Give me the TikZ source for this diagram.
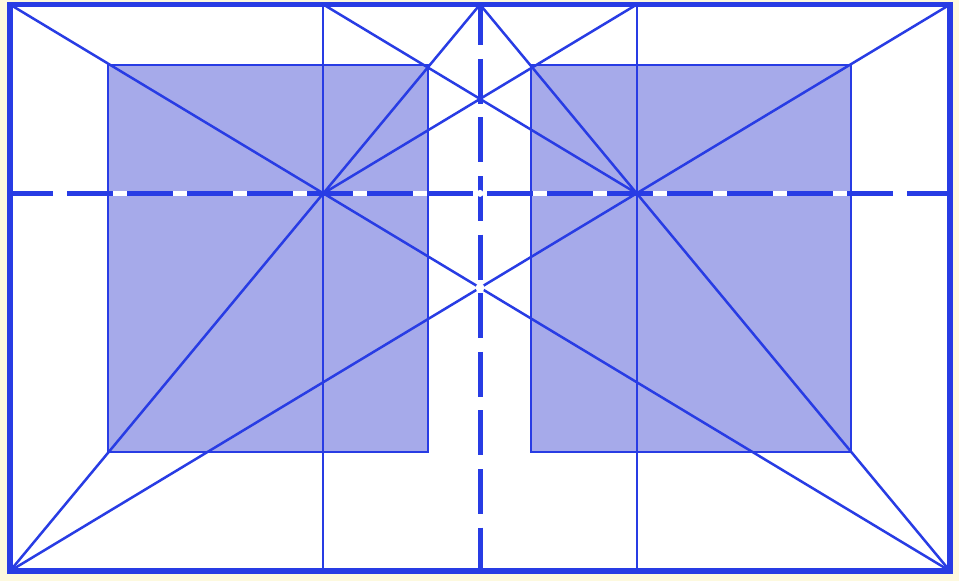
\documentclass[tikz,border=0pt]{standalone}
\usepackage[dvipsnames]{xcolor}
\definecolor{inkblue}{RGB}{40,60,228}
\definecolor{pageshade}{RGB}{166,170,234}
\definecolor{papercream}{RGB}{253,249,222}
\tikzstyle{frameline} = [draw=inkblue, line width=5.5pt]
\tikzstyle{guide} = [draw=inkblue, line width=2.5pt]
\tikzstyle{thinguide} = [draw=inkblue, line width=1.8pt]
\tikzstyle{textblock} = [fill=pageshade, draw=inkblue, line width=2.2pt]
\tikzstyle{axisline} = [draw=inkblue, line width=5pt]

\begin{document}
\begin{tikzpicture}[x=1pt, y=-1pt]

\useasboundingbox (0,0) rectangle (959,581);
\fill[papercream] (0,0) rectangle (959,581);

\coordinate (tl) at (10,4.5);
\coordinate (tr) at (950,4.5);
\coordinate (bl) at (10,571);
\coordinate (br) at (950,571);
\coordinate (spinetop) at (480,4.5);
\coordinate (spinebot) at (480,571);

\fill[white] (tl) rectangle (br);

% text blocks
\path[textblock] (108,65) rectangle (428,452);
\path[textblock] (531,65) rectangle (851,452);

% construction points
\coordinate (leftpt) at (intersection of tl--br and bl--spinetop);
\coordinate (rightpt) at (intersection of tr--bl and br--spinetop);
\coordinate (spinecross) at (intersection of tl--br and tr--bl);
\coordinate (lefttop) at (leftpt |- tl);
\coordinate (righttop) at (rightpt |- tr);

\draw[thinguide] (lefttop) -- (leftpt |- bl);
\draw[thinguide] (righttop) -- (rightpt |- br);

\draw[guide] (tl) -- (br);
\draw[guide] (tr) -- (bl);
\draw[guide] (bl) -- (spinetop) -- (br);
\draw[guide] (lefttop) -- (rightpt);
\draw[guide] (righttop) -- (leftpt);

% dashed axes
\draw[line width=5pt, white] (tl |- leftpt) -- (tr |- leftpt);
\draw[axisline, dash pattern=on 46pt off 14pt, dash phase=3pt] (tl |- leftpt) -- (tr |- leftpt);
\draw[axisline, dash pattern=on 45pt off 13.6pt, dash phase=4.3pt] (spinetop) -- (spinebot);
\fill[white] (spinetop |- leftpt) circle (3.5pt);
\fill[white] (spinecross) circle (4.5pt);

\draw[frameline] (tl) rectangle (br);

\end{tikzpicture}
\end{document}
